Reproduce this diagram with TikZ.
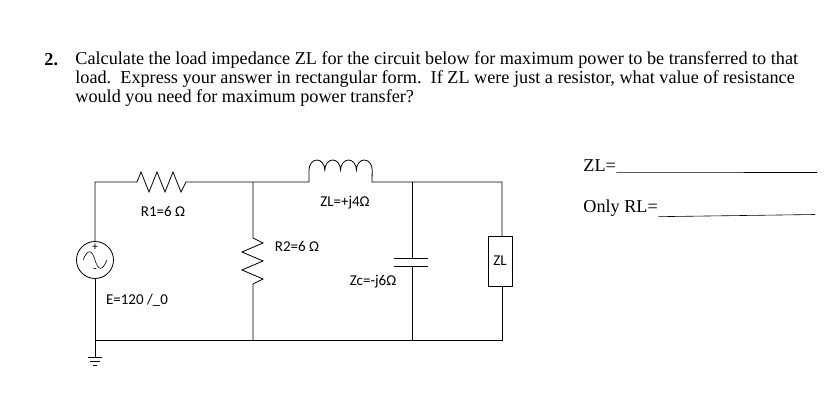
\documentclass[tikz,border=0pt]{standalone}
\usepackage{fontspec}
\setmainfont{Liberation Serif}
\newfontfamily\carfont{Carlito}
\begin{document}
\begin{tikzpicture}[x=1pt,y=-1pt,line width=0.8pt,
  q/.style={anchor=west,inner sep=0pt,font=\fontsize{18.2}{20}\selectfont},
  lbl/.style={inner sep=0pt,font=\carfont\fontsize{15}{17}\selectfont}]
\useasboundingbox (0,0) rectangle (840,420);
\node[q] (num) at (44,60) {\textbf{2.}};
\node[q] (l1) at (75,60) {Calculate the load impedance ZL for the circuit below for maximum power to be transferred to that};
\node[q] (l2) at (75,79) {load.\ \ Express your answer in rectangular form.\ \ If ZL were just a resistor, what value of resistance};
\node[q] (l3) at (75,98) {would you need for maximum power transfer?};
\node[q] (zla) at (583,166) {ZL=};
\node[q] (rla) at (583,208) {Only RL=};
\draw[line width=0.6pt] (zla.south east) -- (817,172.5);
\draw[line width=0.6pt] (rla.south east) -- (815,214.5);
% circuit
\coordinate (tl) at (95,182); \coordinate (bl) at (95,340);
\node[circle,draw,minimum size=37pt,inner sep=0pt] (src) at (95,260) {};
\draw (src.north) -- (tl) -- (137,182)
  -- (141,172) -- (149,192) -- (157,172) -- (165,192) -- (173,172) -- (181,192) -- (186,182) -- (309,182);
\draw (309,182) -- (309,170) arc (180:360:7.9 and 10) arc (180:360:7.9 and 10) arc (180:360:7.9 and 10) arc (180:360:7.9 and 10) -- (372,182) -- (502,182) -- (502,236);
\node[draw,minimum width=24pt,minimum height=50pt,inner sep=0pt,lbl] (zl) at (500,261) {ZL};
\draw (502,286) -- (502,340) -- (bl) -- (src.south);
\draw (253,182) -- (253,238) -- (263,243) -- (242,252) -- (263,261) -- (242,270) -- (263,279) -- (253,284) -- (253,340);
\draw (412,182) -- (412,258) (394,258) -- (428,258) (394,266) -- (428,266) (412,266) -- (412,340);
\draw[line width=0.6pt] (83,260) .. controls (88,248) and (92,250) .. (95,260) .. controls (98,270) and (102,272) .. (107,260);
\node[lbl,font=\carfont\fontsize{12}{13}\selectfont] (p) at (95,247) {+};
\node[lbl,font=\carfont\fontsize{12}{13}\selectfont] (m) at (95,271) {-};
\draw (bl) -- (95,357);
\draw (88,357) -- (102,357) (90,361) -- (100,361) (93,365) -- (97,365);
\node[lbl] (r1) at (163,211) {R1=6 Ω};
\node[lbl] (zlind) at (345,203) {ZL=+j4Ω};
\node[lbl] (r2) at (297,246) {R2=6 Ω};
\node[lbl] (zc) at (373,282) {Zc=-j6Ω};
\node[lbl] (e) at (137,300) {E=120 /\_0};
\end{tikzpicture}
\end{document}
